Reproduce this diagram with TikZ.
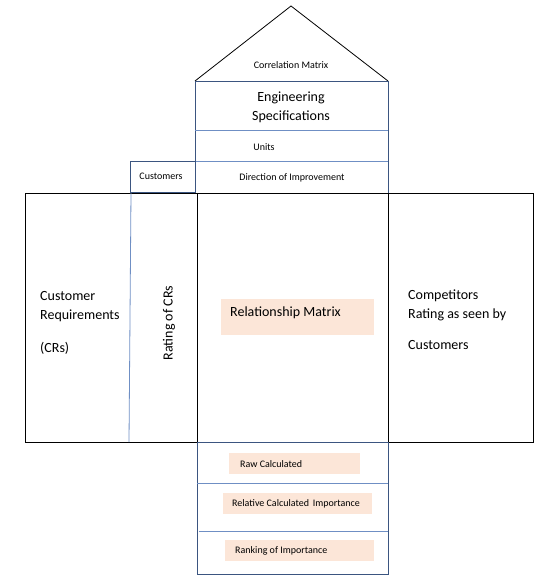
\documentclass[tikz,border=0pt]{standalone}
\usepackage{fontspec}
\setmainfont{Carlito}
\usetikzlibrary{positioning}
\definecolor{frameBlue}{HTML}{3B5580}
\definecolor{rowBlue}{HTML}{6F8FC4}
\definecolor{peach}{HTML}{FCE6D8}

\begin{document}
\begin{tikzpicture}[x = 1pt, y = -1pt]
	\tikzstyle{bigText} = [font = \fontsize{14}{17}\selectfont, inner sep = 0pt]
	\tikzstyle{smallText} = [font = \fontsize{10}{12}\selectfont, inner sep = 0pt]
	\tikzstyle{blackBox} = [draw = black, line width = 1pt]
	\tikzstyle{blueBox} = [draw = frameBlue, line width = 0.8pt]
	\tikzstyle{rowLine} = [draw = rowBlue, line width = 0.8pt]
	\tikzstyle{peachFill} = [fill = peach]
	\useasboundingbox (0, 0) rectangle (551, 582);
	% roof
	\coordinate (apex) at (291, 6);
	\coordinate (eaveL) at (195, 81);
	\coordinate (eaveR) at (388, 81);
	\draw[line width = 0.8pt] (eaveL) -- (apex) -- (eaveR);
	\node[smallText] (corr) at (291, 65) {Correlation Matrix};
	% engineering specifications block
	\draw[blueBox] (195, 81) rectangle (388, 193);
	\draw[rowLine] (195, 130) -- (388, 130);
	\draw[rowLine] (195, 161) -- (388, 161);
	\node[bigText, align = center] (spec) at (291, 107) {Engineering\\[2pt]Specifications};
	\node[smallText] (units) at (264, 147) {Units};
	\node[smallText] (direction) at (292, 178) {Direction of Improvement};
	\draw[blueBox] (130, 161) rectangle (195, 192);
	\node[smallText] (customers) at (161, 176) {Customers};
	% left room
	\draw[blackBox] (25, 193) rectangle (197, 442);
	\draw[rowLine] (131, 193) -- (129, 442);
	\node[bigText, align = left, anchor = north west] (crs) at (40, 291)
		{Customer\\[2pt]Requirements\\[16pt](CRs)};
	\node[bigText, rotate = 90] (rating) at (169, 323) {Rating of CRs};
	% centre room
	\draw[blackBox] (197, 193) rectangle (388, 442);
	\fill[peachFill] (221, 299) rectangle (374, 335);
	\node[bigText, anchor = west] (relation) at (230, 313) {Relationship Matrix};
	% right room
	\draw[blackBox] (388, 193) rectangle (533, 442);
	\node[bigText, align = left, anchor = north west] (compet) at (408, 290)
		{Competitors\\[2pt]Rating as seen by\\[14pt]Customers};
	% basement
	\draw[blueBox] (197, 442) rectangle (388, 574);
	\draw[rowLine] (197, 483) -- (388, 483);
	\draw[rowLine] (199, 531) -- (388, 531);
	\fill[peachFill] (229, 453) rectangle (360, 474);
	\fill[peachFill] (223, 493) rectangle (372, 514);
	\fill[peachFill] (225, 540) rectangle (374, 561);
	\node[smallText, anchor = west] (raw) at (240, 464) {Raw Calculated};
	\node[smallText, anchor = west] (relative) at (232, 504) {Relative Calculated\, Importance};
	\node[smallText, anchor = west] (ranking) at (235, 551) {Ranking of Importance};
\end{tikzpicture}
\end{document}
